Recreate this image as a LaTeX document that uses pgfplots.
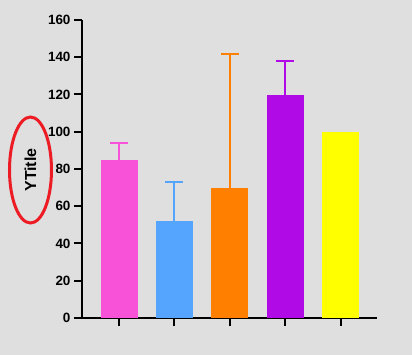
\documentclass[border=0pt]{standalone}
\usepackage{pgfplots}
\pgfplotsset{compat=1.18}
\usepackage{fontspec}
\setmainfont{Liberation Sans}
\definecolor{bg}{HTML}{DFDFDF}
\definecolor{cpink}{HTML}{F752D8}
\definecolor{cblue}{HTML}{55A5FF}
\definecolor{corange}{HTML}{FF8000}
\definecolor{cpurple}{HTML}{B00AE6}
\definecolor{cyellow}{HTML}{FFFF00}
\definecolor{cred}{HTML}{ED1C24}
\begin{document}
\begin{tikzpicture}
\fill[bg] (-82bp,-37bp) rectangle (330bp,318bp);
\useasboundingbox (-82bp,-37bp) rectangle (330bp,318bp);
\begin{axis}[
  at={(0,0)}, anchor=south west,
  scale only axis, width=295bp, height=298bp,
  xmin=-0.667, xmax=4.65, ymin=0, ymax=160,
  axis x line=bottom, axis y line=left,
  axis line style={-, line width=2bp, black},
  xtick={0,1,2,3,4}, xticklabels={},
  ytick={0,20,...,160},
  tick align=outside, major tick length=8bp,
  every tick/.style={black, line width=2bp},
  /pgf/number format/assume math mode=true,
  tick label style={font=\bfseries\fontsize{13.5}{15}\selectfont},
  ylabel={YTitle},
  ylabel style={name=ylab, font=\bfseries\fontsize{16}{18}\selectfont, at={(axis description cs:-0.1746,0.4966)}, anchor=center},
  ybar, bar width=0.667, bar shift=0pt,
  clip=false,
  error bars/y dir=plus, error bars/y explicit,
]
\addplot[fill=cpink, draw=none, error bars/error bar style={cpink, line width=2bp}, error bars/error mark options={rotate=90, cpink, line width=2bp, mark size=9bp}]
  coordinates {(0,85) +- (0,9)};
\addplot[fill=cblue, draw=none, error bars/error bar style={cblue, line width=2bp}, error bars/error mark options={rotate=90, cblue, line width=2bp, mark size=9bp}]
  coordinates {(1,52) +- (0,21)};
\addplot[fill=corange, draw=none, error bars/error bar style={corange, line width=2bp}, error bars/error mark options={rotate=90, corange, line width=2bp, mark size=9bp}]
  coordinates {(2,70) +- (0,72)};
\addplot[fill=cpurple, draw=none, error bars/error bar style={cpurple, line width=2bp}, error bars/error mark options={rotate=90, cpurple, line width=2bp, mark size=9bp}]
  coordinates {(3,119.5) +- (0,18.5)};
\addplot[fill=cyellow, draw=none, error bars/y dir=none]
  coordinates {(4,100)};
\end{axis}
\draw[cred, line width=3bp] (ylab.center) ellipse [x radius=21bp, y radius=53bp];
\end{tikzpicture}
\end{document}
